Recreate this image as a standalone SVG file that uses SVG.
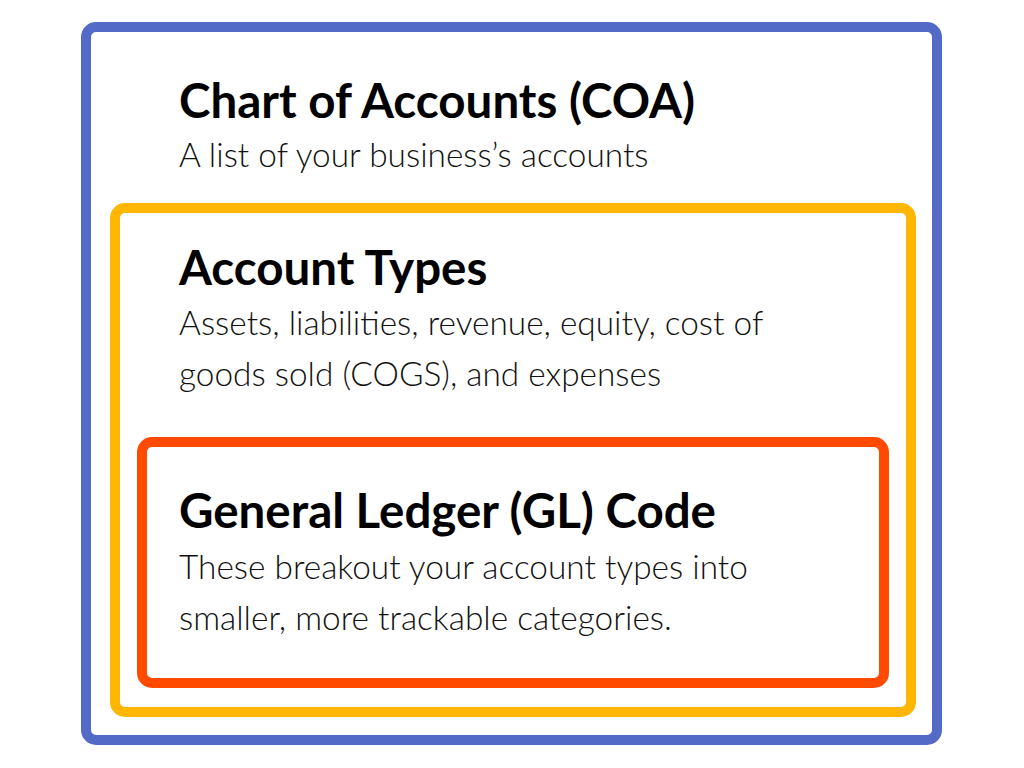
<svg xmlns="http://www.w3.org/2000/svg" width="1024" height="768" viewBox="0 0 1024 768">
<style>
.box{fill:none;stroke-width:10}
.t{font-family:Lato,"Liberation Sans",sans-serif;font-weight:700;font-size:47.5px;fill:#000}
.b{font-family:Lato,"Liberation Sans",sans-serif;font-weight:300;font-size:33.4px;fill:#111}
</style>
<rect width="1024" height="768" fill="#fff"/>
<g id="coa">
<rect class="box" x="86" y="27" width="851" height="713" rx="10" stroke="#536BC6"/>
<text class="t" x="179" y="118">Chart of Accounts (COA)</text>
<text class="b" x="179" y="167">A list of your business’s accounts</text>
</g>
<g id="account-types">
<rect class="box" x="115" y="208" width="796" height="504" rx="10" stroke="#FFB600"/>
<text class="t" x="179" y="285">Account Types</text>
<text class="b" x="179" y="335">Assets, liabilities, revenue, equity, cost of</text>
<text class="b" x="179" y="386">goods sold (COGS), and expenses</text>
</g>
<g id="gl-code">
<rect class="box" x="142" y="442" width="742" height="241" rx="10" stroke="#FF4A00"/>
<text class="t" x="179" y="528">General Ledger (GL) Code</text>
<text class="b" x="179" y="579">These breakout your account types into</text>
<text class="b" x="179" y="630">smaller, more trackable categories.</text>
</g>
<g id="connectors"/>
</svg>
